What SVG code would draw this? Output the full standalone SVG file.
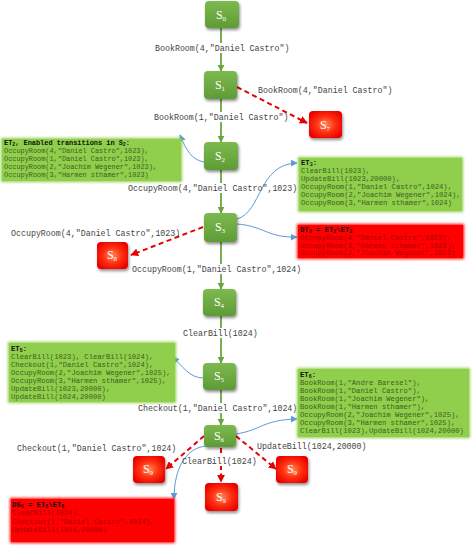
<svg xmlns="http://www.w3.org/2000/svg" width="474" height="547" viewBox="0 0 474 547">
<defs>
<linearGradient id="gG" x1="0" y1="0" x2="0" y2="1"><stop offset="0" stop-color="#7cba4f"/><stop offset="1" stop-color="#5f9b36"/></linearGradient>
<radialGradient id="rG" cx="0.5" cy="0.5" r="0.6"><stop offset="0" stop-color="#ff8a5a"/><stop offset="0.5" stop-color="#ff3010"/><stop offset="1" stop-color="#e80000"/></radialGradient>
<filter id="sh" x="-30%" y="-30%" width="160%" height="160%"><feGaussianBlur in="SourceAlpha" stdDeviation="1.5"/><feOffset dx="1" dy="2" result="b"/><feComponentTransfer><feFuncA type="linear" slope="0.45"/></feComponentTransfer><feMerge><feMergeNode/><feMergeNode in="SourceGraphic"/></feMerge></filter>
<filter id="soft" x="-10%" y="-20%" width="120%" height="140%"><feGaussianBlur stdDeviation="1.6"/></filter>
<marker id="aG" viewBox="0 0 10 10" refX="9" refY="5" markerWidth="7" markerHeight="7" markerUnits="userSpaceOnUse" orient="auto"><path d="M0,0 L10,5 L0,10 z" fill="#6aa640"/></marker>
<marker id="aR" viewBox="0 0 10 10" refX="9" refY="5" markerWidth="8" markerHeight="8" markerUnits="userSpaceOnUse" orient="auto"><path d="M0,0 L10,5 L0,10 z" fill="#e80000"/></marker>
<marker id="aB" viewBox="0 0 10 10" refX="9" refY="5" markerWidth="7" markerHeight="7" markerUnits="userSpaceOnUse" orient="auto"><path d="M0,0 L10,5 L0,10 z" fill="#5b9bd5"/></marker>
<style>
.gn{fill:url(#gG);filter:url(#sh)}
.rn{fill:url(#rG);filter:url(#sh)}
.nl{font-family:"Liberation Serif","DejaVu Serif",serif;font-size:12px;fill:#fff;text-anchor:middle}
.sub{font-size:7px}
.ge{stroke:#6aa640;stroke-width:1.8;fill:none;marker-end:url(#aG)}
.re{stroke:#e80000;stroke-width:2;stroke-dasharray:5,3.5;fill:none;marker-end:url(#aR)}
.be{stroke:#5b9bd5;stroke-width:1;fill:none;marker-end:url(#aB)}
.el{font-family:"Liberation Mono","DejaVu Sans Mono",monospace;font-size:8.3px;fill:#444}
.lb{fill:#fff}
.gb{fill:#8fcf4c}
.rb{fill:#ff0000}
.bt{font-family:"Liberation Mono","DejaVu Sans Mono",monospace;font-size:7.2px;fill:#3f5e22}
.rt{font-family:"Liberation Mono","DejaVu Sans Mono",monospace;font-size:7.2px;fill:#b00000}
.tt{font-weight:bold;fill:#111}
</style>
</defs>
<rect width="474" height="547" fill="#fff"/>

<g id="connectors">
<line class="ge" x1="221" y1="28" x2="221" y2="71"/>
<line class="ge" x1="221" y1="99" x2="221" y2="142"/>
<line class="ge" x1="221" y1="170" x2="221" y2="213"/>
<line class="ge" x1="221" y1="242" x2="221" y2="289"/>
<line class="ge" x1="221" y1="316" x2="221" y2="363"/>
<line class="ge" x1="221" y1="390" x2="221" y2="425"/>
<line class="re" x1="237" y1="87" x2="307" y2="123"/>
<line class="re" x1="203" y1="227" x2="131" y2="255"/>
<line class="re" x1="204" y1="436" x2="166" y2="469"/>
<line class="re" x1="221" y1="448" x2="221" y2="482"/>
<line class="re" x1="236" y1="436" x2="276" y2="469"/>
<rect class="lb" x="214" y="43" width="14" height="10"/>
<rect class="lb" x="214" y="112" width="14" height="10"/>
<rect class="lb" x="214" y="183" width="14" height="10"/>
<rect class="lb" x="214" y="264" width="14" height="10"/>
<rect class="lb" x="214" y="328" width="14" height="10"/>
<rect class="lb" x="214" y="403" width="14" height="10"/>
<rect class="lb" x="214" y="456" width="14" height="10"/>
<path class="be" d="M204,162 C192,160 186,150 180,135"/>
<path class="be" d="M237,219 C262,212 258,164 297,163"/>
<path class="be" d="M237,224 C264,226 268,238 297,237"/>
<path class="be" d="M203,378 C190,378 182,366 173,357"/>
<path class="be" d="M236,434 C262,430 262,420 297,419"/>
<path class="be" d="M206,446 C186,448 174,468 174,499"/>
</g>

<g id="edge-labels">
<text class="el" x="155" y="51">BookRoom(4,"Daniel Castro")</text>
<text class="el" x="258" y="93">BookRoom(4,"Daniel Castro")</text>
<text class="el" x="154" y="120">BookRoom(1,"Daniel Castro")</text>
<text class="el" x="128" y="191">OccupyRoom(4,"Daniel Castro",1023)</text>
<text class="el" x="11" y="236">OccupyRoom(4,"Daniel Castro",1023)</text>
<text class="el" x="132" y="272">OccupyRoom(1,"Daniel Castro",1024)</text>
<text class="el" x="183" y="336">ClearBill(1024)</text>
<text class="el" x="138" y="411">Checkout(1,"Daniel Castro",1024)</text>
<text class="el" x="17" y="451">Checkout(1,"Daniel Castro",1024)</text>
<text class="el" x="182" y="464">ClearBill(1024)</text>
<text class="el" x="257" y="449">UpdateBill(1024,20000)</text>
</g>

<g id="S0"><rect class="gn" x="205" y="1" width="34" height="27" rx="4"/><text class="nl" x="221" y="19">S<tspan class="sub" dy="2">0</tspan></text></g>
<g id="S1"><rect class="gn" x="204" y="71" width="33" height="28" rx="4"/><text class="nl" x="220" y="89">S<tspan class="sub" dy="2">1</tspan></text></g>
<g id="S7"><rect class="rn" x="309" y="111" width="33" height="27" rx="4"/><text class="nl" x="325" y="129">S<tspan class="sub" dy="2">7</tspan></text></g>
<g id="S2"><rect class="gn" x="204" y="142" width="34" height="28" rx="4"/><text class="nl" x="220" y="160">S<tspan class="sub" dy="2">2</tspan></text></g>
<g id="S3"><rect class="gn" x="204" y="213" width="33" height="29" rx="4"/><text class="nl" x="220" y="231">S<tspan class="sub" dy="2">3</tspan></text></g>
<g id="S8"><rect class="rn" x="97" y="242" width="31" height="27" rx="4"/><text class="nl" x="112" y="259">S<tspan class="sub" dy="2">8</tspan></text></g>
<g id="S4"><rect class="gn" x="203" y="289" width="33" height="27" rx="4"/><text class="nl" x="219" y="306">S<tspan class="sub" dy="2">4</tspan></text></g>
<g id="S5"><rect class="gn" x="203" y="363" width="33" height="27" rx="4"/><text class="nl" x="219" y="380">S<tspan class="sub" dy="2">5</tspan></text></g>
<g id="S6"><rect class="gn" x="204" y="425" width="32" height="22" rx="4"/><text class="nl" x="219" y="440">S<tspan class="sub" dy="2">6</tspan></text></g>
<g id="S9a"><rect class="rn" x="133" y="456" width="32" height="27" rx="4"/><text class="nl" x="148" y="473">S<tspan class="sub" dy="2">9</tspan></text></g>
<g id="S9b"><rect class="rn" x="205" y="483" width="33" height="28" rx="4"/><text class="nl" x="221" y="501">S<tspan class="sub" dy="2">9</tspan></text></g>
<g id="S9c"><rect class="rn" x="276" y="456" width="32" height="27" rx="4"/><text class="nl" x="292" y="473">S<tspan class="sub" dy="2">9</tspan></text></g>

<g id="ET2">
<rect class="gb" x="1" y="138" width="181" height="44" filter="url(#soft)"/>
<rect class="gb" x="2" y="139" width="179" height="42"/>
<text class="bt" x="4" y="144.5" style="font-size:6.9px"><tspan class="tt">ET<tspan class="sub" style="font-size:5px" dy="1.5">2</tspan><tspan dy="-1.5">, Enabled transitions in S</tspan><tspan style="font-size:5px" dy="1.5">2</tspan><tspan dy="-1.5">:</tspan></tspan></text>
<text class="bt" x="4" y="152.7" style="font-size:6.9px">OccupyRoom(4,"Daniel Castro",1023),</text>
<text class="bt" x="4" y="160.9" style="font-size:6.9px">OccupyRoom(1,"Daniel Castro",1023),</text>
<text class="bt" x="4" y="169.1" style="font-size:6.9px">OccupyRoom(2,"Joachim Wegener",1023),</text>
<text class="bt" x="4" y="177.3" style="font-size:6.9px">OccupyRoom(3,"Harmen sthamer",1023)</text>
</g>

<g id="ET3">
<rect class="gb" x="298" y="157" width="165" height="55" filter="url(#soft)"/>
<rect class="gb" x="299" y="158" width="163" height="53"/>
<text class="bt" x="301" y="164.5"><tspan class="tt">ET<tspan style="font-size:5px" dy="1.5">3</tspan><tspan dy="-1.5">:</tspan></tspan></text>
<text class="bt" x="301" y="172.5">ClearBill(1023),</text>
<text class="bt" x="301" y="180.5">UpdateBill(1023,20000),</text>
<text class="bt" x="301" y="188.5">OccupyRoom(1,"Daniel Castro",1024),</text>
<text class="bt" x="301" y="196.5">OccupyRoom(2,"Joachim Wegener",1024),</text>
<text class="bt" x="301" y="204.5">OccupyRoom(3,"Harmen sthamer",1024)</text>
</g>

<g id="DT3">
<rect class="rb" x="297" y="224" width="167" height="35" filter="url(#soft)"/>
<rect class="rb" x="298" y="225" width="165" height="33"/>
<text class="rt" x="300" y="231.5"><tspan class="tt">DT<tspan style="font-size:5px" dy="1.5">3</tspan><tspan dy="-1.5"> = ET</tspan><tspan style="font-size:5px" dy="1.5">2</tspan><tspan dy="-1.5">\ET</tspan><tspan style="font-size:5px" dy="1.5">3</tspan></tspan></text>
<text class="rt" x="300" y="239.5">OccupyRoom(4,"Daniel Castro",1023),</text>
<text class="rt" x="300" y="247.5">OccupyRoom(3,"Harmen sthamer",1023),</text>
<text class="rt" x="300" y="255">OccupyRoom(2,"Joachim Wegener",1023)</text>
</g>

<g id="ET5">
<rect class="gb" x="8" y="342" width="168" height="61" filter="url(#soft)"/>
<rect class="gb" x="9" y="343" width="166" height="59"/>
<text class="bt" x="11" y="350.5"><tspan class="tt">ET<tspan style="font-size:5px" dy="1.5">5</tspan><tspan dy="-1.5">:</tspan></tspan></text>
<text class="bt" x="11" y="358.5">ClearBill(1023), ClearBill(1024),</text>
<text class="bt" x="11" y="366.5">Checkout(1,"Daniel Castro",1024),</text>
<text class="bt" x="11" y="374.5">OccupyRoom(2,"Joachim Wegener",1025),</text>
<text class="bt" x="11" y="382.5">OccupyRoom(3,"Harmen sthamer",1025),</text>
<text class="bt" x="11" y="390.5">UpdateBill(1023,20000),</text>
<text class="bt" x="11" y="398.5">UpdateBill(1024,20000)</text>
</g>

<g id="ET6">
<rect class="gb" x="297" y="368" width="173" height="70" filter="url(#soft)"/>
<rect class="gb" x="298" y="369" width="171" height="68"/>
<text class="bt" x="300" y="376.5"><tspan class="tt">ET<tspan style="font-size:5px" dy="1.5">6</tspan><tspan dy="-1.5">:</tspan></tspan></text>
<text class="bt" x="300" y="384.6">BookRoom(1,"Andre Baresel"),</text>
<text class="bt" x="300" y="392.7">BookRoom(1,"Daniel Castro"),</text>
<text class="bt" x="300" y="400.8">BookRoom(1,"Joachim Wegener"),</text>
<text class="bt" x="300" y="408.9">BookRoom(1,"Harmen sthamer"),</text>
<text class="bt" x="300" y="417">OccupyRoom(2,"Joachim Wegener",1025),</text>
<text class="bt" x="300" y="425.1">OccupyRoom(3,"Harmen sthamer",1025),</text>
<text class="bt" x="300" y="433.2">ClearBill(1023),UpdateBill(1024,20000)</text>
</g>

<g id="DS6">
<rect class="rb" x="10" y="498" width="165" height="45" filter="url(#soft)"/>
<rect class="rb" x="11" y="499" width="163" height="43"/>
<text class="rt" x="12" y="506.5"><tspan class="tt">DS<tspan style="font-size:5px" dy="1.5">6</tspan><tspan dy="-1.5"> = ET</tspan><tspan style="font-size:5px" dy="1.5">5</tspan><tspan dy="-1.5">\ET</tspan><tspan style="font-size:5px" dy="1.5">6</tspan></tspan></text>
<text class="rt" x="12" y="515">ClearBill(1024),</text>
<text class="rt" x="12" y="523.5">Checkout(1,"Daniel Castro",1024),</text>
<text class="rt" x="12" y="532">UpdateBill(1024,20000)</text>
</g>
</svg>
